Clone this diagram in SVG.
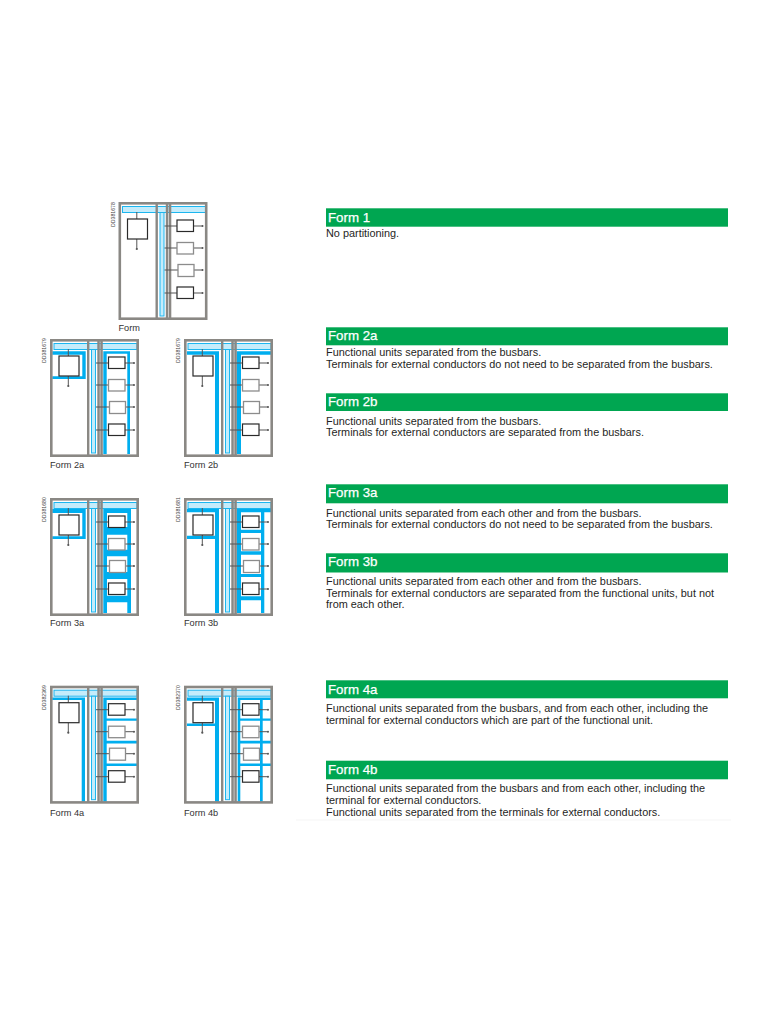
<svg xmlns="http://www.w3.org/2000/svg" width="768" height="1024" viewBox="0 0 768 1024">
<style>
text{font-family:"Liberation Sans",Arial,sans-serif}
.h{fill:#00a651}
.ht{fill:#fff;font-size:13.3px;stroke:#fff;stroke-width:.25}
.b{fill:#1f1f24;font-size:10.88px}
.l{fill:#333;font-size:9.2px}
.id{fill:#444;font-size:5.2px}
.fr{fill:none;stroke:#8a8884;stroke-width:2.6}
.dv{fill:#8a8884}
.bus{fill:#c4ecfb;stroke:#1fb6ef;stroke-width:1}
.p{fill:#00aeef}
.w{stroke:#555;stroke-width:1;fill:none}
.d{fill:#555}
.k{fill:#fff;stroke:#2a2a2a;stroke-width:1.2}
.g{fill:#fff;stroke:#8c8c8c;stroke-width:1.3}
.panel{filter:url(#soft)}
</style>
<defs>
<filter id="soft" x="-5%" y="-5%" width="110%" height="110%"><feGaussianBlur stdDeviation=".3"/></filter>
<g id="shell">
<rect class="bus" x="4" y="4.500" width="83" height="6"/>
<rect class="bus" x="41.500" y="10.500" width="4" height="103.500"/>
</g>
<g id="frame">
<rect class="fr" x="1.300" y="1.300" width="86.400" height="115.400"/>
<rect class="dv" x="37" y="1" width="2.400" height="116"/>
<rect class="dv" x="47.300" y="1" width="2.500" height="116"/>
<rect class="dv" x="50.300" y="1" width="2.500" height="116"/>
</g>
<g id="gear">
<path class="w" d="M18.300 10V17M18.300 37V47M46 24H58.500M46 46H58.500M46 68H59.500M46 91H58.500M75 24H84M75 46H84M75.500 68H84M75 91H84"/>
<circle class="d" cx="18.300" cy="47" r="1.100"/>
<circle class="d" cx="84" cy="24" r="1"/><circle class="d" cx="84" cy="46" r="1"/><circle class="d" cx="84" cy="68" r="1"/><circle class="d" cx="84" cy="91" r="1"/>
<rect class="k" x="9" y="17" width="20" height="20"/>
<rect class="k" x="58.500" y="18" width="16.500" height="11.500"/>
<rect class="g" x="58.500" y="40.500" width="16.500" height="11.500"/>
<rect class="g" x="59.500" y="62.500" width="16" height="12"/>
<rect class="k" x="58.500" y="85" width="16.500" height="11.500"/>
</g>
</defs>

<g id="connectors" fill="none"/>

<g id="form-1-panel" class="panel" transform="translate(118.500 202)">
<use href="#shell"/><use href="#frame"/><use href="#gear"/>
</g>
<text class="id" transform="translate(114.500 227) rotate(-90)">DD381678</text>
<text class="l" x="118.500" y="331">Form</text>

<g id="form-2a-panel" class="panel" transform="translate(50 339)">
<use href="#shell"/>
<path class="p" d="M2.300 12.300H35.700V40H2.300V37.300H32.300V15.700H2.300ZM53.300 12.300H80V115H77.300V14.700H56.700V115H53.300Z"/>
<use href="#frame"/><use href="#gear"/>
</g>
<text class="id" transform="translate(46 363) rotate(-90)">DD381679</text>
<text class="l" x="50" y="468">Form 2a</text>

<g id="form-2b-panel" class="panel" transform="translate(184 339)">
<use href="#shell"/>
<path class="p" d="M3 12.300H35V115H31V15.700H3ZM52.700 12.300H87V15.700H57V115H52.700Z"/>
<use href="#frame"/><use href="#gear"/>
</g>
<text class="id" transform="translate(180 363) rotate(-90)">DD381679</text>
<text class="l" x="184" y="468">Form 2b</text>

<g id="form-3a-panel" class="panel" transform="translate(50 498)">
<use href="#shell"/>
<path class="p" d="M2.300 11H35.700V41H2.300V38.300H32.300V15H2.300ZM53.300 11H81V115H77.300V104.300H57V115H53.300ZM57 15V29H77.300V15ZM57 36.700V51.700H77.300V36.700ZM57 58.300V74H77.300V58.300ZM57 81V97.700H77.300V81Z" fill-rule="evenodd"/>
<use href="#frame"/><use href="#gear"/>
</g>
<text class="id" transform="translate(46 522) rotate(-90)">DD381680</text>
<text class="l" x="50" y="626">Form 3a</text>

<g id="form-3b-panel" class="panel" transform="translate(184 498)">
<use href="#shell"/>
<path class="p" d="M3 11H35V115H31V41H3V37.700H31V14.300H3Z"/>
<path class="p" d="M52.700 11H87.700V14.300H80.300V115H77V102.300H57V115H52.700ZM57 14.300V31.700H77V14.300ZM57 35V53.300H77V35ZM57 56.700V76H77V56.700ZM57 79V98.300H77V79Z" fill-rule="evenodd"/>
<use href="#frame"/><use href="#gear"/>
</g>
<text class="id" transform="translate(180 522) rotate(-90)">DD381681</text>
<text class="l" x="184" y="626">Form 3b</text>

<g id="form-4a-panel" class="panel" transform="translate(50 685.700)">
<use href="#shell"/>
<path class="p" d="M2.300 11.700H35V116H31.700V14.300H2.300ZM53.300 11.700H87V14.300H56.700V32.700H87V35H56.700V55H87V57.700H56.700V77.700H87V80.300H56.700V116H53.300Z"/>
<use href="#frame"/><use href="#gear"/>
</g>
<text class="id" transform="translate(46 710) rotate(-90)">DD382369</text>
<text class="l" x="50" y="816">Form 4a</text>

<g id="form-4b-panel" class="panel" transform="translate(184 685.700)">
<use href="#shell"/>
<path class="p" d="M3 11.700H35V116H31V40.300H3V37.700H31V15H3Z"/>
<path class="p" d="M53.700 11.700H87V14.300H78.700V32.700H87V35H78.700V55H87V57.700H78.700V77.700H87V80.300H78.700V116H76V80.300H56.300V116H53.700ZM56.300 14.300V32.700H76V14.300ZM56.300 35V55H76V35ZM56.300 57.700V77.700H76V57.700Z" fill-rule="evenodd"/>
<use href="#frame"/><use href="#gear"/>
</g>
<text class="id" transform="translate(180 710) rotate(-90)">DD382370</text>
<text class="l" x="184" y="816">Form 4b</text>

<g id="form-1"><rect class="h" x="326" y="208.300" width="402" height="18.400"/><text class="ht" x="328" y="222">Form 1</text>
<text class="b" x="326" y="236.500">No partitioning.</text></g>
<g id="form-2a"><rect class="h" x="326" y="327.300" width="402" height="18"/><text class="ht" x="328" y="340">Form 2a</text>
<text class="b" x="326" y="356">Functional units separated from the busbars.</text>
<text class="b" x="326" y="367.500">Terminals for external conductors do not need to be separated from the busbars.</text></g>
<g id="form-2b"><rect class="h" x="326" y="393.300" width="402" height="17.700"/><text class="ht" x="328" y="405.500">Form 2b</text>
<text class="b" x="326" y="425">Functional units separated from the busbars.</text>
<text class="b" x="326" y="436">Terminals for external conductors are separated from the busbars.</text></g>
<g id="form-3a"><rect class="h" x="326" y="484.300" width="402" height="19"/><text class="ht" x="328" y="496.800">Form 3a</text>
<text class="b" x="326" y="516.800">Functional units separated from each other and from the busbars.</text>
<text class="b" x="326" y="528.300">Terminals for external conductors do not need to be separated from the busbars.</text></g>
<g id="form-3b"><rect class="h" x="326" y="553.300" width="402" height="19.200"/><text class="ht" x="328" y="565.800">Form 3b</text>
<text class="b" x="326" y="585">Functional units separated from each other and from the busbars.</text>
<text class="b" x="326" y="596.700">Terminals for external conductors are separated from the functional units, but not</text>
<text class="b" x="326" y="608.300">from each other.</text></g>
<g id="form-4a"><rect class="h" x="326" y="680.300" width="402" height="18"/><text class="ht" x="328" y="693.500">Form 4a</text>
<text class="b" x="326" y="712.300">Functional units separated from the busbars, and from each other, including the</text>
<text class="b" x="326" y="724.300">terminal for external conductors which are part of the functional unit.</text></g>
<g id="form-4b"><rect class="h" x="326" y="760.700" width="402" height="18.600"/><text class="ht" x="328" y="773.500">Form 4b</text>
<text class="b" x="326" y="792.300">Functional units separated from the busbars and from each other, including the</text>
<text class="b" x="326" y="804.300">terminal for external conductors.</text>
<text class="b" x="326" y="815.700">Functional units separated from the terminals for external conductors.</text></g>
<rect x="296" y="819.500" width="435" height="1" fill="#f5f5f5"/>
</svg>
